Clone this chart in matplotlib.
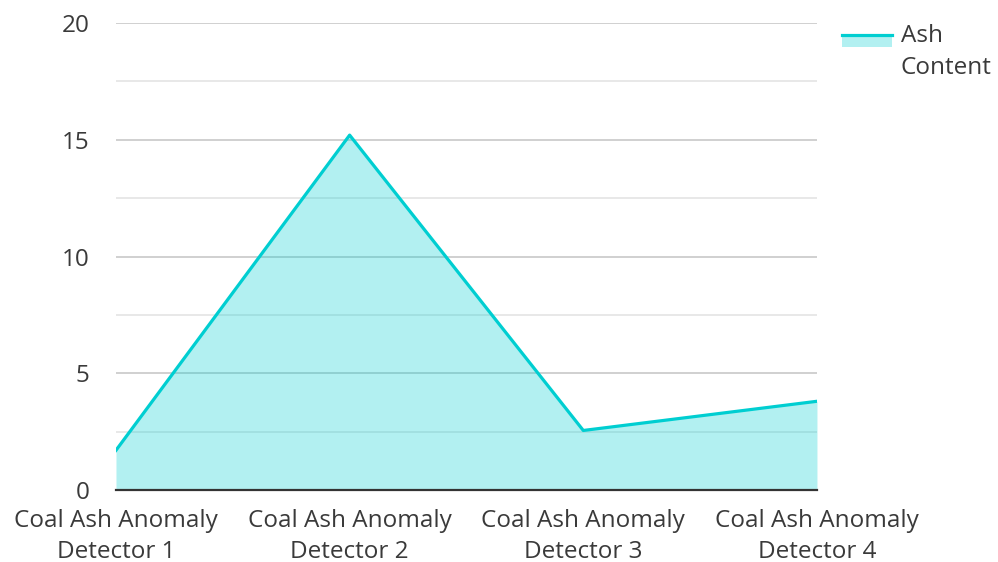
import matplotlib.pyplot as plt
from matplotlib.lines import Line2D
from matplotlib.patches import Rectangle
from matplotlib.ticker import MultipleLocator

plt.rcParams['font.family'] = ['Open Sans', 'DejaVu Sans']

detectors = ["Coal Ash Anomaly\nDetector 1", "Coal Ash Anomaly\nDetector 2",
             "Coal Ash Anomaly\nDetector 3", "Coal Ash Anomaly\nDetector 4"]
ash_content = [1.7, 15.2, 2.55, 3.8]
series_name = ["Ash", "Content"]

line_color = "#00ced1"
text_color = "#3a3a3a"
fs = 17.5

fig = plt.figure(figsize=(9.98, 5.62), dpi=100)
ax = fig.add_axes([0.1162, 0.1281, 0.7024, 0.8309])

x = list(range(len(detectors)))
ax.fill_between(x, 0, ash_content, color=line_color, alpha=0.3, lw=0, zorder=2)
ax.plot(x, ash_content, color=line_color, lw=2.3, zorder=3)

ax.set_xlim(0, len(detectors) - 1)
ax.set_ylim(0, 20)
ax.yaxis.set_major_locator(MultipleLocator(5))
ax.yaxis.set_minor_locator(MultipleLocator(2.5))
ax.set_axisbelow(True)
ax.grid(which='major', axis='y', color='#c8c8c8', lw=1.2)
ax.grid(which='minor', axis='y', color='#e4e4e4', lw=1.2)
ax.grid(False, axis='x')

for s in ['top', 'right', 'left']:
    ax.spines[s].set_visible(False)
ax.spines['bottom'].set_color('#333333')
ax.spines['bottom'].set_linewidth(1.6)
ax.spines['bottom'].set_zorder(4)

ax.set_xticks(x)
ax.set_xticklabels(detectors, linespacing=1.36)
ax.tick_params(axis='both', which='both', length=0, labelsize=fs, colors=text_color)
ax.tick_params(axis='y', pad=19)
ax.tick_params(axis='x', pad=14)

# legend drawn by hand on the right
fig.patches.append(Rectangle((842 / 998, 1 - 47 / 562), 50 / 998, 12 / 562,
                             transform=fig.transFigure, color=line_color, alpha=0.3, lw=0))
fig.lines.append(Line2D([842 / 998, 892 / 998], [1 - 35 / 562, 1 - 35 / 562],
                        transform=fig.transFigure, color=line_color, lw=2.3))
for i, word in enumerate(series_name):
    fig.text(901 / 998, 1 - (36 + 32 * i) / 562, word, fontsize=fs, color=text_color,
             va='center', ha='left')

fig.savefig("out.png", dpi=100)
